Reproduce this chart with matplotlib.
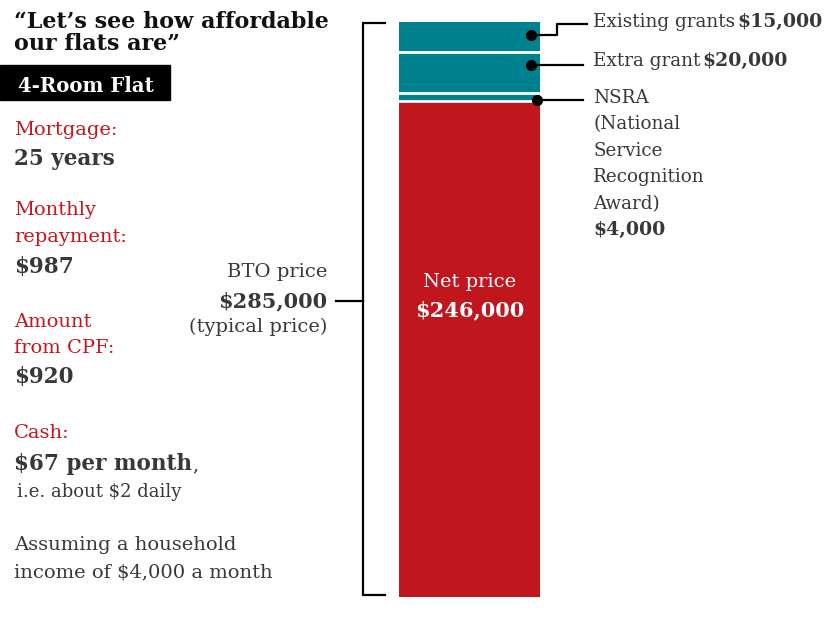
import matplotlib
matplotlib.use("Agg")
import matplotlib.pyplot as plt

# ---- data ----
categories = ["Net price", "NSRA", "Extra grant", "Existing grants"]
values = [246000, 4000, 20000, 15000]
total_label = "$285,000"
net_label = "$246,000"

W, H = 830, 622
RED = "#c1161e"
TEAL = "#00818f"
TXT = "#383838"
REDTXT = "#c4161c"
FAM = "DejaVu Serif"

fig = plt.figure(figsize=(W / 100, H / 100), dpi=100)
fig.patch.set_facecolor("white")

# bar axes
bx0, bx1, by_top, by_bot = 399, 540, 22, 597
axb = fig.add_axes([bx0 / W, (H - by_bot) / H, (bx1 - bx0) / W, (by_bot - by_top) / H])
axb.set_xlim(-0.5, 0.5)
axb.set_ylim(0, sum(values))
axb.axis("off")
colors = [RED, TEAL, TEAL, TEAL]
bottom = 0
bottoms = []
for v, c in zip(values, colors):
    axb.bar(0, v, bottom=bottom, width=1.0, color=c, linewidth=0)
    bottoms.append(bottom)
    bottom += v
for b in bottoms[1:]:
    axb.axhline(b, color="white", linewidth=2.0)

# overlay axes in pixel coordinates (drawn on top)
ax = fig.add_axes([0, 0, 1, 1])
ax.set_xlim(0, W)
ax.set_ylim(H, 0)
ax.axis("off")
ax.set_zorder(5)
ax.patch.set_alpha(0)

fig.canvas.draw()
renderer = fig.canvas.get_renderer()


def to_px(xd, yd):
    dx, dy = axb.transData.transform((xd, yd))
    return dx, H - dy


def txt(x, y, s, size=14, weight="normal", color=TXT, ha="left", **kw):
    return ax.text(x, y, s, fontsize=size, fontweight=weight, color=color,
                   ha=ha, va="baseline", family=FAM, **kw)


def rich(x, y, parts, gap=3):
    cur = x
    for s, w, c, sz in parts:
        t = txt(cur, y, s, size=sz, weight=w, color=c)
        cur += t.get_window_extent(renderer=renderer).width + gap


# ---- title ----
txt(14, 28, "\u201cLet\u2019s see how affordable", size=16, weight="heavy", color="#111111")
txt(14, 50, "our flats are\u201d", size=16, weight="heavy", color="#111111")
ax.add_patch(plt.Rectangle((0, 65), 170, 35, color="black"))
txt(18, 92, "4-Room Flat", size=14.2, weight="bold", color="white")

# ---- left notes ----
BS = 15.5
txt(14, 135, "Mortgage:", color=REDTXT)
txt(14, 165, "25 years", weight="bold", size=BS)
txt(14, 215, "Monthly", color=REDTXT)
txt(14, 242, "repayment:", color=REDTXT)
txt(14, 273, "$987", weight="bold", size=BS)
txt(14, 327, "Amount", color=REDTXT)
txt(14, 353, "from CPF:", color=REDTXT)
txt(14, 383, "$920", weight="bold", size=BS)
txt(14, 438, "Cash:", color=REDTXT)
rich(14, 470, [("$67 per month", "bold", TXT, BS), (",", "normal", TXT, 14)], gap=0)
txt(17, 497, "i.e. about $2 daily", size=13)
txt(14, 550, "Assuming a household", size=14)
txt(14, 577, "income of $4,000 a month", size=14)

# ---- bracket ----
lw = 1.6
ax.plot([385, 363, 363, 385], [23, 23, 595, 595], color="black", lw=lw, solid_joinstyle="miter")
ax.plot([336, 363], [301, 301], color="black", lw=lw)
txt(327, 277, "BTO price", ha="right")
txt(327, 307, total_label, weight="bold", size=15, ha="right")
txt(327, 332, "(typical price)", ha="right")

# ---- inside bar labels ----
cx, _ = to_px(0, 0)
txt(cx, 287, "Net price", color="white", ha="center")
txt(cx, 316, net_label, weight="bold", size=15, color="white", ha="center")

# ---- leaders ----
RS = 13.2
RB = 13.6
dot_fracs = [None, 0.1, 0.68, 0.57]
# existing grants
x3, y3 = to_px(0.436, bottoms[3] + values[3] * dot_fracs[3])
ax.plot([x3, 557, 557, 587], [y3, y3, 24, 24], color="black", lw=lw)
ax.plot([x3], [y3], "o", color="black", ms=7)
rich(593, 27, [("Existing grants", "normal", TXT, RS), ("$15,000", "bold", TXT, RB)], gap=2)
# extra grant
x2, y2 = to_px(0.436, bottoms[2] + values[2] * dot_fracs[2])
ax.plot([x2, 583], [y2, y2], color="black", lw=lw)
ax.plot([x2], [y2], "o", color="black", ms=7)
rich(593, 66, [("Extra grant", "normal", TXT, RS), ("$20,000", "bold", TXT, RB)], gap=2)
# NSRA
x1, y1 = to_px(0.479, bottoms[1] + values[1] * dot_fracs[1])
ax.plot([x1, 583], [y1, y1], color="black", lw=lw)
ax.plot([x1], [y1], "o", color="black", ms=7)
for i, s in enumerate(["NSRA", "(National", "Service", "Recognition", "Award)"]):
    txt(593, 103 + i * 26.4, s, size=RS)
txt(593, 235, "$4,000", size=RB, weight="bold")

fig.savefig("out.png", dpi=100, facecolor="white")
